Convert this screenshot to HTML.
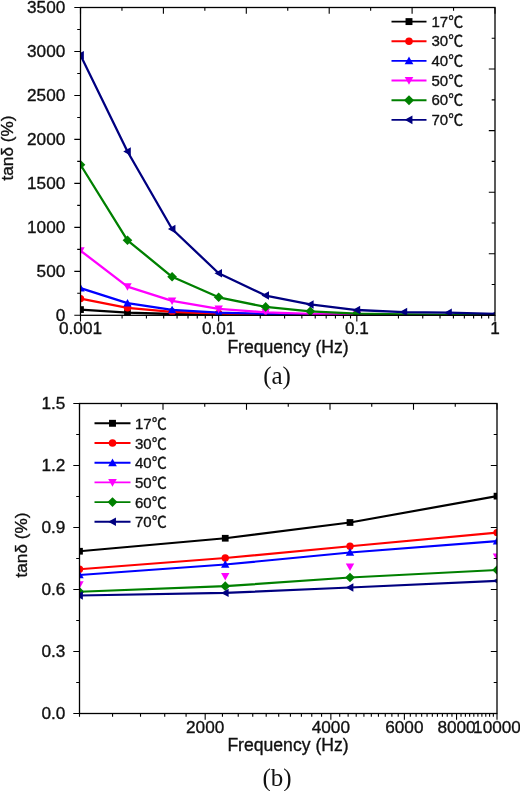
<!DOCTYPE html>
<html lang="en"><head><meta charset="utf-8"><title>tan delta vs frequency</title>
<style>html,body{margin:0;padding:0;background:#fff;overflow:hidden}svg{display:block}text{stroke:#111;stroke-width:0.35px;stroke-linejoin:round}</style></head>
<body>
<svg width="520" height="791" viewBox="0 0 520 791" font-family="'Liberation Sans', 'Noto Sans CJK SC', sans-serif" font-size="17.2" fill="#111">
<defs><clipPath id="ca"><rect x="80.5" y="7.5" width="414.5" height="308"/></clipPath><clipPath id="cb"><rect x="79.5" y="403.5" width="417.5" height="310"/></clipPath></defs>
<rect width="520" height="791" fill="#fff"/>
<g clip-path="url(#ca)">
<polyline points="80.50,309.58 127.48,312.66 172.10,313.98 218.67,314.60 265.64,314.95 310.27,315.12 356.83,315.21 403.81,315.21 448.44,315.30 495.00,315.30" fill="none" stroke="#000000" stroke-width="2.3" stroke-linejoin="round"/>
<rect x="77.14" y="306.22" width="6.72" height="6.72" fill="#000000"/>
<rect x="124.12" y="309.30" width="6.72" height="6.72" fill="#000000"/>
<rect x="168.74" y="310.62" width="6.72" height="6.72" fill="#000000"/>
<rect x="215.31" y="311.24" width="6.72" height="6.72" fill="#000000"/>
<rect x="262.28" y="311.59" width="6.72" height="6.72" fill="#000000"/>
<rect x="306.91" y="311.76" width="6.72" height="6.72" fill="#000000"/>
<rect x="353.47" y="311.85" width="6.72" height="6.72" fill="#000000"/>
<polyline points="80.50,298.59 127.48,307.82 172.10,311.78 218.67,313.54 265.64,314.42 310.27,314.86 356.83,315.04 403.81,315.12 448.44,315.21 495.00,315.30" fill="none" stroke="#ff0000" stroke-width="2.3" stroke-linejoin="round"/>
<circle cx="80.50" cy="298.59" r="3.68" fill="#ff0000"/>
<circle cx="127.48" cy="307.82" r="3.68" fill="#ff0000"/>
<circle cx="172.10" cy="311.78" r="3.68" fill="#ff0000"/>
<circle cx="218.67" cy="313.54" r="3.68" fill="#ff0000"/>
<circle cx="265.64" cy="314.42" r="3.68" fill="#ff0000"/>
<circle cx="310.27" cy="314.86" r="3.68" fill="#ff0000"/>
<circle cx="356.83" cy="315.04" r="3.68" fill="#ff0000"/>
<polyline points="80.50,288.04 127.48,303.16 172.10,309.85 218.67,312.66 265.64,313.98 310.27,314.60 356.83,314.95 403.81,315.12 448.44,315.21 495.00,315.30" fill="none" stroke="#0000ff" stroke-width="2.3" stroke-linejoin="round"/>
<polygon points="80.50,283.84 84.70,291.40 76.30,291.40" fill="#0000ff"/>
<polygon points="127.48,298.96 131.68,306.52 123.28,306.52" fill="#0000ff"/>
<polygon points="172.10,305.65 176.30,313.21 167.90,313.21" fill="#0000ff"/>
<polygon points="218.67,308.46 222.87,316.02 214.47,316.02" fill="#0000ff"/>
<polygon points="265.64,309.78 269.84,317.34 261.44,317.34" fill="#0000ff"/>
<polygon points="310.27,310.40 314.47,317.96 306.07,317.96" fill="#0000ff"/>
<polygon points="356.83,310.75 361.03,318.31 352.63,318.31" fill="#0000ff"/>
<polyline points="80.50,250.66 127.48,286.54 172.10,300.88 218.67,308.97 265.64,312.31 310.27,313.89 356.83,314.60 403.81,314.95 448.44,315.12 495.00,315.21" fill="none" stroke="#ff00ff" stroke-width="2.3" stroke-linejoin="round"/>
<polygon points="80.50,254.86 84.70,247.30 76.30,247.30" fill="#ff00ff"/>
<polygon points="127.48,290.74 131.68,283.18 123.28,283.18" fill="#ff00ff"/>
<polygon points="172.10,305.08 176.30,297.52 167.90,297.52" fill="#ff00ff"/>
<polygon points="218.67,313.17 222.87,305.61 214.47,305.61" fill="#ff00ff"/>
<polygon points="265.64,316.51 269.84,308.95 261.44,308.95" fill="#ff00ff"/>
<polygon points="310.27,318.09 314.47,310.53 306.07,310.53" fill="#ff00ff"/>
<polygon points="356.83,318.80 361.03,311.24 352.63,311.24" fill="#ff00ff"/>
<polyline points="80.50,164.74 127.48,240.28 172.10,276.78 218.67,297.27 265.64,306.95 310.27,311.34 356.83,313.54 403.81,314.42 448.44,314.86 495.00,315.12" fill="none" stroke="#008000" stroke-width="2.3" stroke-linejoin="round"/>
<polygon points="80.50,159.91 85.33,164.74 80.50,169.57 75.67,164.74" fill="#008000"/>
<polygon points="127.48,235.45 132.31,240.28 127.48,245.11 122.65,240.28" fill="#008000"/>
<polygon points="172.10,271.95 176.93,276.78 172.10,281.61 167.27,276.78" fill="#008000"/>
<polygon points="218.67,292.44 223.50,297.27 218.67,302.10 213.84,297.27" fill="#008000"/>
<polygon points="265.64,302.12 270.47,306.95 265.64,311.78 260.81,306.95" fill="#008000"/>
<polygon points="310.27,306.51 315.10,311.34 310.27,316.17 305.44,311.34" fill="#008000"/>
<polygon points="356.83,308.71 361.66,313.54 356.83,318.37 352.00,313.54" fill="#008000"/>
<polyline points="80.50,55.17 127.48,151.46 172.10,229.03 218.67,273.26 265.64,295.51 310.27,304.48 356.83,310.02 403.81,312.05 448.44,312.66 495.00,313.98" fill="none" stroke="#000080" stroke-width="2.3" stroke-linejoin="round"/>
<polygon points="76.30,55.17 83.86,50.97 83.86,59.37" fill="#000080"/>
<polygon points="123.28,151.46 130.84,147.26 130.84,155.66" fill="#000080"/>
<polygon points="167.90,229.03 175.46,224.83 175.46,233.23" fill="#000080"/>
<polygon points="214.47,273.26 222.03,269.06 222.03,277.46" fill="#000080"/>
<polygon points="261.44,295.51 269.00,291.31 269.00,299.71" fill="#000080"/>
<polygon points="306.07,304.48 313.63,300.28 313.63,308.68" fill="#000080"/>
<polygon points="352.63,310.02 360.19,305.82 360.19,314.22" fill="#000080"/>
<polygon points="399.61,312.05 407.17,307.85 407.17,316.25" fill="#000080"/>
<polygon points="444.24,312.66 451.80,308.46 451.80,316.86" fill="#000080"/>
<polygon points="490.80,313.98 498.36,309.78 498.36,318.18" fill="#000080"/>
</g>
<rect x="80.5" y="7.5" width="414.5" height="307.8" fill="none" stroke="#000" stroke-width="1.3"/>
<path d="M80.5 315.30h-6.2 M80.5 293.31h-3.3 M80.5 271.33h-6.2 M80.5 249.34h-3.3 M80.5 227.36h-6.2 M80.5 205.37h-3.3 M80.5 183.39h-6.2 M80.5 161.40h-3.3 M80.5 139.41h-6.2 M80.5 117.43h-3.3 M80.5 95.44h-6.2 M80.5 73.46h-3.3 M80.5 51.47h-6.2 M80.5 29.49h-3.3 M80.5 7.50h-6.2 M495.0 315.30h-6.2 M495.0 284.52h-3.3 M495.0 253.74h-6.2 M495.0 222.96h-3.3 M495.0 192.18h-6.2 M495.0 161.40h-3.3 M495.0 130.62h-6.2 M495.0 99.84h-3.3 M495.0 69.06h-6.2 M495.0 38.28h-3.3 M495.0 7.50h-6.2 M80.50 7.5v6.2 M121.95 7.5v3.3 M163.40 7.5v6.2 M204.85 7.5v3.3 M246.30 7.5v6.2 M287.75 7.5v3.3 M329.20 7.5v6.2 M370.65 7.5v3.3 M412.10 7.5v6.2 M453.55 7.5v3.3 M495.00 7.5v6.2 M80.50 315.3v6.2 M122.09 315.3v3.3 M146.42 315.3v3.3 M163.68 315.3v3.3 M177.07 315.3v3.3 M188.01 315.3v3.3 M197.26 315.3v3.3 M205.28 315.3v3.3 M212.34 315.3v3.3 M218.67 315.3v6.2 M260.26 315.3v3.3 M284.59 315.3v3.3 M301.85 315.3v3.3 M315.24 315.3v3.3 M326.18 315.3v3.3 M335.43 315.3v3.3 M343.44 315.3v3.3 M350.51 315.3v3.3 M356.83 315.3v6.2 M398.43 315.3v3.3 M422.76 315.3v3.3 M440.02 315.3v3.3 M453.41 315.3v3.3 M464.35 315.3v3.3 M473.60 315.3v3.3 M481.61 315.3v3.3 M488.68 315.3v3.3 M495.00 315.3v6.2" stroke="#000" stroke-width="1.1" fill="none"/>
<text x="65.3" y="320.50" text-anchor="end">0</text>
<text x="65.3" y="276.53" text-anchor="end">500</text>
<text x="65.3" y="232.56" text-anchor="end">1000</text>
<text x="65.3" y="188.59" text-anchor="end">1500</text>
<text x="65.3" y="144.61" text-anchor="end">2000</text>
<text x="65.3" y="100.64" text-anchor="end">2500</text>
<text x="65.3" y="56.67" text-anchor="end">3000</text>
<text x="65.3" y="12.70" text-anchor="end">3500</text>
<text x="80.50" y="334.0" text-anchor="middle">0.001</text>
<text x="218.67" y="334.0" text-anchor="middle">0.01</text>
<text x="356.83" y="334.0" text-anchor="middle">0.1</text>
<text x="495.00" y="334.0" text-anchor="middle">1</text>
<text x="288" y="353.4" text-anchor="middle" font-size="17.6">Frequency (Hz)</text>
<text transform="translate(13.3,148) rotate(-90)" text-anchor="middle">tanδ (%)</text>
<text x="277" y="384.1" text-anchor="middle" style="stroke:none" font-family="'Liberation Serif', 'Noto Serif CJK SC', serif" font-size="25">(a)</text>
<path d="M391.5 21.60H426.5" stroke="#000000" stroke-width="1.9"/>
<rect x="405.54" y="18.14" width="6.91" height="6.91" fill="#000000"/>
<text x="431.5" y="26.60" font-size="15">17℃</text>
<path d="M391.5 41.25H426.5" stroke="#ff0000" stroke-width="1.9"/>
<circle cx="409.00" cy="41.25" r="3.78" fill="#ff0000"/>
<text x="431.5" y="46.25" font-size="15">30℃</text>
<path d="M391.5 60.90H426.5" stroke="#0000ff" stroke-width="1.9"/>
<polygon points="409.00,56.58 413.32,64.36 404.68,64.36" fill="#0000ff"/>
<text x="431.5" y="65.90" font-size="15">40℃</text>
<path d="M391.5 80.55H426.5" stroke="#ff00ff" stroke-width="1.9"/>
<polygon points="409.00,84.87 413.32,77.09 404.68,77.09" fill="#ff00ff"/>
<text x="431.5" y="85.55" font-size="15">50℃</text>
<path d="M391.5 100.20H426.5" stroke="#008000" stroke-width="1.9"/>
<polygon points="409.00,95.23 413.97,100.20 409.00,105.17 404.03,100.20" fill="#008000"/>
<text x="431.5" y="105.20" font-size="15">60℃</text>
<path d="M391.5 119.85H426.5" stroke="#000080" stroke-width="1.9"/>
<polygon points="404.68,119.85 412.46,115.53 412.46,124.17" fill="#000080"/>
<text x="431.5" y="124.85" font-size="15">70℃</text>
<g clip-path="url(#cb)">
<polyline points="79.50,551.25 225.25,538.25 350.00,522.50 497.00,496.15" fill="none" stroke="#000000" stroke-width="2.2" stroke-linejoin="round"/>
<rect x="76.14" y="547.89" width="6.72" height="6.72" fill="#000000"/>
<rect x="221.89" y="534.89" width="6.72" height="6.72" fill="#000000"/>
<rect x="346.64" y="519.14" width="6.72" height="6.72" fill="#000000"/>
<rect x="493.64" y="492.79" width="6.72" height="6.72" fill="#000000"/>
<polyline points="79.50,569.25 225.25,558.00 350.00,546.25 497.00,532.60" fill="none" stroke="#ff0000" stroke-width="2.2" stroke-linejoin="round"/>
<circle cx="79.50" cy="569.25" r="3.68" fill="#ff0000"/>
<circle cx="225.25" cy="558.00" r="3.68" fill="#ff0000"/>
<circle cx="350.00" cy="546.25" r="3.68" fill="#ff0000"/>
<circle cx="497.00" cy="532.60" r="3.68" fill="#ff0000"/>
<polyline points="79.50,575.00 225.25,564.50 350.00,552.50 497.00,541.15" fill="none" stroke="#0000ff" stroke-width="2.2" stroke-linejoin="round"/>
<polygon points="79.50,570.80 83.70,578.36 75.30,578.36" fill="#0000ff"/>
<polygon points="225.25,560.30 229.45,567.86 221.05,567.86" fill="#0000ff"/>
<polygon points="350.00,548.30 354.20,555.86 345.80,555.86" fill="#0000ff"/>
<polygon points="497.00,536.95 501.20,544.51 492.80,544.51" fill="#0000ff"/>
<polygon points="79.50,588.70 83.70,581.14 75.30,581.14" fill="#ff00ff"/>
<polygon points="225.25,580.45 229.45,572.89 221.05,572.89" fill="#ff00ff"/>
<polygon points="350.00,570.95 354.20,563.39 345.80,563.39" fill="#ff00ff"/>
<polygon points="497.00,561.10 501.20,553.54 492.80,553.54" fill="#ff00ff"/>
<polyline points="79.50,591.75 225.25,586.20 350.00,577.50 497.00,570.00" fill="none" stroke="#008000" stroke-width="2.2" stroke-linejoin="round"/>
<polygon points="79.50,586.92 84.33,591.75 79.50,596.58 74.67,591.75" fill="#008000"/>
<polygon points="225.25,581.37 230.08,586.20 225.25,591.03 220.42,586.20" fill="#008000"/>
<polygon points="350.00,572.67 354.83,577.50 350.00,582.33 345.17,577.50" fill="#008000"/>
<polygon points="497.00,565.17 501.83,570.00 497.00,574.83 492.17,570.00" fill="#008000"/>
<polyline points="79.50,595.50 225.25,592.90 350.00,587.50 497.00,580.85" fill="none" stroke="#000080" stroke-width="2.2" stroke-linejoin="round"/>
<polygon points="75.30,595.50 82.86,591.30 82.86,599.70" fill="#000080"/>
<polygon points="221.05,592.90 228.61,588.70 228.61,597.10" fill="#000080"/>
<polygon points="345.80,587.50 353.36,583.30 353.36,591.70" fill="#000080"/>
<polygon points="492.80,580.85 500.36,576.65 500.36,585.05" fill="#000080"/>
</g>
<rect x="79.5" y="403.5" width="417.5" height="310.0" fill="none" stroke="#000" stroke-width="1.3"/>
<path d="M79.5 713.50h-6.2 M497.0 713.50h-6.2 M79.5 682.50h-3.3 M497.0 682.50h-3.3 M79.5 651.50h-6.2 M497.0 651.50h-6.2 M79.5 620.50h-3.3 M497.0 620.50h-3.3 M79.5 589.50h-6.2 M497.0 589.50h-6.2 M79.5 558.50h-3.3 M497.0 558.50h-3.3 M79.5 527.50h-6.2 M497.0 527.50h-6.2 M79.5 496.50h-3.3 M497.0 496.50h-3.3 M79.5 465.50h-6.2 M497.0 465.50h-6.2 M79.5 434.50h-3.3 M497.0 434.50h-3.3 M79.5 403.50h-6.2 M497.0 403.50h-6.2 M79.50 403.5v6.2 M121.25 403.5v3.3 M163.00 403.5v6.2 M204.75 403.5v3.3 M246.50 403.5v6.2 M288.25 403.5v3.3 M330.00 403.5v6.2 M371.75 403.5v3.3 M413.50 403.5v6.2 M455.25 403.5v3.3 M497.00 403.5v6.2 M79.50 713.5v3.3 M112.56 713.5v3.3 M140.51 713.5v3.3 M164.72 713.5v3.3 M186.08 713.5v3.3 M205.18 713.5v6.2 M222.46 713.5v3.3 M238.24 713.5v3.3 M252.75 713.5v3.3 M266.19 713.5v3.3 M278.70 713.5v3.3 M290.40 713.5v3.3 M301.39 713.5v3.3 M311.76 713.5v3.3 M321.56 713.5v3.3 M330.86 713.5v6.2 M339.71 713.5v3.3 M348.14 713.5v3.3 M356.20 713.5v3.3 M363.92 713.5v3.3 M371.32 713.5v3.3 M378.43 713.5v3.3 M385.27 713.5v3.3 M391.87 713.5v3.3 M398.23 713.5v3.3 M404.38 713.5v6.2 M410.32 713.5v3.3 M416.08 713.5v3.3 M421.66 713.5v3.3 M427.07 713.5v3.3 M432.33 713.5v3.3 M437.44 713.5v3.3 M442.40 713.5v3.3 M447.24 713.5v3.3 M451.95 713.5v3.3 M456.54 713.5v6.2 M461.02 713.5v3.3 M465.39 713.5v3.3 M469.65 713.5v3.3 M473.82 713.5v3.3 M477.90 713.5v3.3 M481.88 713.5v3.3 M485.78 713.5v3.3 M489.60 713.5v3.3 M493.34 713.5v3.3 M497.00 713.5v6.2" stroke="#000" stroke-width="1.1" fill="none"/>
<text x="65.3" y="718.80" text-anchor="end">0.0</text>
<text x="65.3" y="656.80" text-anchor="end">0.3</text>
<text x="65.3" y="594.80" text-anchor="end">0.6</text>
<text x="65.3" y="532.80" text-anchor="end">0.9</text>
<text x="65.3" y="470.80" text-anchor="end">1.2</text>
<text x="65.3" y="408.80" text-anchor="end">1.5</text>
<text x="205.18" y="733.1" text-anchor="middle">2000</text>
<text x="330.86" y="733.1" text-anchor="middle">4000</text>
<text x="404.38" y="733.1" text-anchor="middle">6000</text>
<text x="456.54" y="733.1" text-anchor="middle">8000</text>
<text x="497.00" y="733.1" text-anchor="middle">10000</text>
<text x="288" y="751" text-anchor="middle" font-size="17.6">Frequency (Hz)</text>
<text transform="translate(26.5,545) rotate(-90)" text-anchor="middle">tanδ (%)</text>
<text x="277" y="786.1" text-anchor="middle" style="stroke:none" font-family="'Liberation Serif', 'Noto Serif CJK SC', serif" font-size="25">(b)</text>
<path d="M94.5 423.30H130.5" stroke="#000000" stroke-width="1.9"/>
<rect x="109.04" y="419.84" width="6.91" height="6.91" fill="#000000"/>
<text x="135" y="428.80" font-size="15">17℃</text>
<path d="M94.5 443.00H130.5" stroke="#ff0000" stroke-width="1.9"/>
<circle cx="112.50" cy="443.00" r="3.78" fill="#ff0000"/>
<text x="135" y="448.50" font-size="15">30℃</text>
<path d="M94.5 462.70H130.5" stroke="#0000ff" stroke-width="1.9"/>
<polygon points="112.50,458.38 116.82,466.16 108.18,466.16" fill="#0000ff"/>
<text x="135" y="468.20" font-size="15">40℃</text>
<path d="M94.5 482.40H130.5" stroke="#ff00ff" stroke-width="1.9"/>
<polygon points="112.50,486.72 116.82,478.94 108.18,478.94" fill="#ff00ff"/>
<text x="135" y="487.90" font-size="15">50℃</text>
<path d="M94.5 502.10H130.5" stroke="#008000" stroke-width="1.9"/>
<polygon points="112.50,497.13 117.47,502.10 112.50,507.07 107.53,502.10" fill="#008000"/>
<text x="135" y="507.60" font-size="15">60℃</text>
<path d="M94.5 521.80H130.5" stroke="#000080" stroke-width="1.9"/>
<polygon points="108.18,521.80 115.96,517.48 115.96,526.12" fill="#000080"/>
<text x="135" y="527.30" font-size="15">70℃</text>
</svg>
</body></html>
